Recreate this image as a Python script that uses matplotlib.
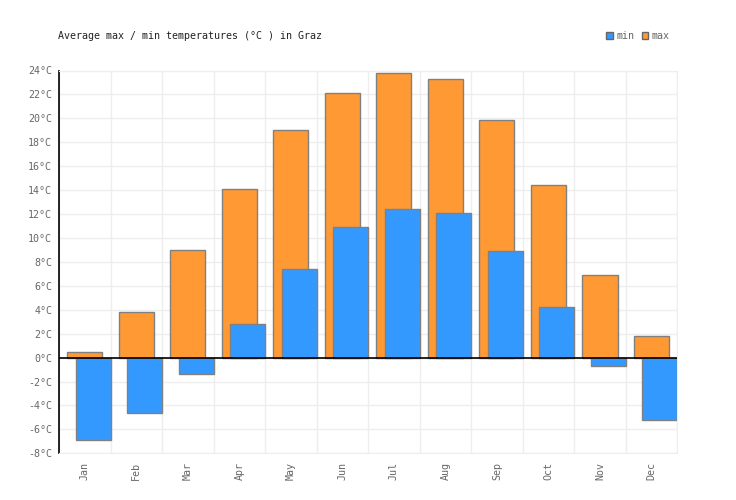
import numpy as np
import matplotlib
matplotlib.use('Agg')
import matplotlib.pyplot as plt
from matplotlib.patches import Patch

plt.rcParams['font.family'] = 'DejaVu Sans Mono'
plt.rcParams['font.size'] = 7.2

months = ['Jan', 'Feb', 'Mar', 'Apr', 'May', 'Jun',
          'Jul', 'Aug', 'Sep', 'Oct', 'Nov', 'Dec']
t_max = [0.5, 3.8, 9.0, 14.1, 19.0, 22.1, 23.8, 23.3, 19.9, 14.4, 6.9, 1.8]
t_min = [-6.9, -4.6, -1.4, 2.8, 7.4, 10.9, 12.4, 12.1, 8.9, 4.2, -0.7, -5.2]
y_ticks = list(range(-8, 25, 2))

orange = '#ff9933'
blue = '#3399ff'
edge = '#808080'

fig = plt.figure(figsize=(7.36, 5.0), dpi=100)
ax = fig.add_axes([0.0802, 0.0934, 0.8400, 0.7656])

x = np.arange(len(months))
w = 0.68
ax.bar(x, t_max, w, color=orange, edgecolor=edge, linewidth=1, zorder=2)
ax.bar(x + 0.16, t_min, w, color=blue, edgecolor=edge, linewidth=1, zorder=3)

ax.set_xlim(-0.5, 11.5)
ax.set_ylim(-8, 24)
ax.set_yticks(y_ticks)
ax.set_yticklabels(['{}°C'.format(v) for v in y_ticks])
ax.set_xticks(x)
ax.set_xticklabels(months, rotation=90)
ax.set_xticks(np.arange(-0.5, 12, 1), minor=True)

ax.grid(True, axis='y', color='#eeeeee', linewidth=1, zorder=0)
ax.grid(True, axis='x', which='minor', color='#eeeeee', linewidth=1, zorder=0)
ax.tick_params(axis='both', which='both', length=0, colors='#666666', labelsize=7.2)
ax.tick_params(axis='y', pad=5)
ax.tick_params(axis='x', pad=6)
for side in ['top', 'right', 'bottom']:
    ax.spines[side].set_color('#eeeeee')
ax.spines['left'].set_color('black')
ax.spines['left'].set_linewidth(1.2)
ax.axhline(0, color='black', linewidth=1.2, zorder=4)

fig.text(0.0788, 0.928, 'Average max / min temperatures (°C ) in Graz',
         fontsize=7.2, color='#222222', ha='left', va='center')

handles = [Patch(facecolor=blue, edgecolor='#666666', label='min'),
           Patch(facecolor=orange, edgecolor='#666666', label='max')]
fig.legend(handles=handles, loc='center right', bbox_to_anchor=(0.9195, 0.928),
           ncol=2, frameon=False, handlelength=0.65, handleheight=0.65,
           handletextpad=0.35, columnspacing=0.75, labelcolor='#666666',
           fontsize=7.2, borderpad=0.2)

fig.savefig('out.png', dpi=100)
